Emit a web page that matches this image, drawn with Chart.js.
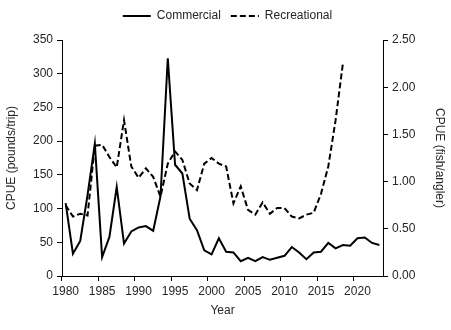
<!DOCTYPE html>
<html>
<head>
<meta charset="utf-8">
<script src="https://cdn.jsdelivr.net/npm/chart.js@4/dist/chart.umd.min.js"></script>
<style>
  html, body { margin: 0; padding: 0; background: #fff; }
  #wrap { width: 451px; height: 330px; }
</style>
</head>
<body>
<div id="wrap"><canvas id="cpueChart" width="451" height="330"></canvas></div>
<script>
// === Data ===
const years = [
  1980, 1981, 1982, 1983, 1984, 1985, 1986, 1987, 1988, 1989,
  1990, 1991, 1992, 1993, 1994, 1995, 1996, 1997, 1998, 1999,
  2000, 2001, 2002, 2003, 2004, 2005, 2006, 2007, 2008, 2009,
  2010, 2011, 2012, 2013, 2014, 2015, 2016, 2017, 2018, 2019,
  2020, 2021, 2022, 2023
];

// pounds per trip (left axis)
const commercial = [
  108, 33, 52, 120, 196, 28, 58, 132, 48, 66,
  72, 74, 67, 118, 323, 165, 152, 85, 68, 38,
  32, 56, 36, 35, 22, 27, 22, 28, 24, 27,
  30, 43, 35, 25, 35, 36, 49, 41, 46, 45,
  56, 57, 49, 46
];

// fish per angler (right axis)
const recreational = [
  0.75, 0.63, 0.66, 0.64, 1.38, 1.39, 1.26, 1.15, 1.65, 1.16,
  1.04, 1.14, 1.05, 0.84, 1.19, 1.32, 1.23, 0.98, 0.91, 1.19,
  1.25, 1.19, 1.16, 0.77, 0.95, 0.70, 0.65, 0.78, 0.66, 0.72,
  0.72, 0.63, 0.61, 0.65, 0.67, 0.87, 1.16, 1.65, 2.25, null,
  null, null, null, null
];

const leftTicks = [0, 50, 100, 150, 200, 250, 300, 350];
const rightTicks = [0, 0.5, 1.0, 1.5, 2.0, 2.5];

Chart.defaults.font.family = '"Liberation Sans", Arial, sans-serif';
Chart.defaults.font.size = 12;
Chart.defaults.color = '#262626';

// extra gap under the legend
const legendGap = {
  id: 'legendGap',
  beforeInit(chart) {
    const fit = chart.legend.fit;
    chart.legend.fit = function () {
      fit.bind(chart.legend)();
      this.height += 8;
    };
  }
};

const ctx = document.getElementById('cpueChart').getContext('2d');
new Chart(ctx, {
  type: 'line',
  data: {
    labels: years.map(String),
    datasets: [
      {
        label: 'Commercial',
        data: commercial,
        yAxisID: 'y',
        borderColor: '#000',
        backgroundColor: '#000',
        borderWidth: 2,
        pointRadius: 0,
        tension: 0
      },
      {
        label: 'Recreational',
        data: recreational,
        yAxisID: 'y2',
        borderColor: '#000',
        backgroundColor: '#000',
        borderWidth: 2,
        borderDash: [6, 3],
        pointRadius: 0,
        tension: 0
      }
    ]
  },
  plugins: [legendGap],
  options: {
    responsive: false,
    animation: false,
    layout: { padding: { top: 0, left: 4, right: 0, bottom: 0 } },
    plugins: {
      tooltip: { enabled: false },
      legend: {
        position: 'top',
        labels: {
          usePointStyle: true,
          pointStyle: 'line',
          pointStyleWidth: 28,
          boxHeight: 12,
          padding: 10,
          color: '#262626',
          generateLabels: chart => {
            const items = Chart.defaults.plugins.legend.labels.generateLabels(chart);
            items.forEach(it => {
              it.lineDash = chart.data.datasets[it.datasetIndex].borderDash || [];
            });
            return items;
          }
        }
      }
    },
    scales: {
      x: {
        type: 'category',
        offset: true,
        grid: {
          offset: true,
          drawOnChartArea: false,
          tickLength: 5,
          color: c => (c.index !== undefined && c.index % 5 === 0) ? '#000' : 'rgba(0,0,0,0)'
        },
        border: { color: '#000', width: 1 },
        ticks: {
          autoSkip: false,
          maxRotation: 0,
          padding: 3,
          callback: (v, i) => (i % 5 === 0 ? years[i] : '')
        },
        title: { display: true, text: 'Year', padding: { top: 2, bottom: 12 } },
        afterFit: s => { s.height = 54; }
      },
      y: {
        position: 'left',
        min: 0,
        max: 350,
        afterBuildTicks: s => { s.ticks = leftTicks.map(v => ({ value: v })); },
        grid: { drawOnChartArea: false, tickLength: 5, color: '#000' },
        border: { color: '#000', width: 1 },
        ticks: { padding: 4 },
        title: { display: true, text: 'CPUE (pounds/trip)', padding: { top: 0, bottom: 4 } },
        afterFit: s => { s.width = 58; }
      },
      y2: {
        position: 'right',
        min: 0,
        max: 2.5,
        afterBuildTicks: s => { s.ticks = rightTicks.map(v => ({ value: v })); },
        grid: { drawOnChartArea: false, tickLength: 5, color: '#000' },
        border: { color: '#000', width: 1 },
        ticks: { padding: 4, callback: v => Number(v).toFixed(2) },
        title: { display: true, text: 'CPUE (fish/angler)', padding: { top: 4, bottom: 0 } },
        afterFit: s => { s.width = 68; }
      }
    }
  }
});
</script>
</body>
</html>
